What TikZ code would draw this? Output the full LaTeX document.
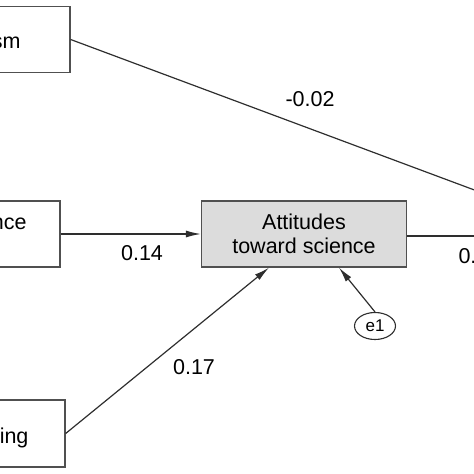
\documentclass[tikz,border=0pt]{standalone}
\usepackage{fontspec}
\setmainfont{Liberation Sans}
\usetikzlibrary{arrows.meta, calc, positioning, shapes.geometric}
\definecolor{BoxFill}{HTML}{DCDCDC}
\definecolor{EdgeGray}{HTML}{505050}
\definecolor{LineGray}{HTML}{2E2E2E}

\tikzset{
  varbox/.style={draw=EdgeGray, line width=1.3pt, rectangle, inner sep=0pt,
    minimum width=260pt, minimum height=66pt},
  coef/.style={LineGray, line width=1.2pt},
  coefarrow/.style={coef, -{Latex[length=15pt, width=7pt]}},
}

\begin{document}
\begin{tikzpicture}[x=1pt, y=-1pt, font=\fontsize{21.5}{24}\selectfont]
    \useasboundingbox (0,0) rectangle (474,474);
    \clip (0,0) rectangle (474,474);
    % exogenous boxes, cut off at the left edge
    \node[varbox] (ismbox) at (-60,39.5) {};
    \node[varbox] (ncebox) at (-70,234) {};
    \node[varbox, minimum height=67pt] (wingbox) at (-65,433.5) {};
    \node[anchor=base east] (ismtxt) at (24,48) {sm};
    \node[anchor=base east] (ncetxt) at (30,229) {nce};
    \node[anchor=base east] (wingtxt) at (32,443) {wing};
    % mediator and its error
    \node[varbox, fill=BoxFill, minimum width=205pt, align=center] (att) at (304,234)
        {Attitudes\\toward science};
    \node[draw=LineGray, line width=1.1pt, ellipse, inner sep=0pt,
        minimum width=41pt, minimum height=27pt, font=\fontsize{17}{19}\selectfont]
        (eone) at (375,326) {e1};
    % paths leaving the picture on the right
    \coordinate (outtop) at (520,207);
    \coordinate (outmid) at (520,236);
    \draw[coef] (ismbox.east) -- (outtop);
    \draw[coef] (att.east |- outmid) -- (outmid);
    \draw[coefarrow] (ncebox.east) -- (att.west);
    \draw[coefarrow] (wingbox.east) -- ($(att.south)+(-35,0)$);
    \draw[coefarrow] (eone.north) -- ($(att.south)+(35,0)$);
    % coefficients
    \node (lismatt) at (310,99) {-0.02};
    \node (lnceatt) at (142,253) {0.14};
    \node (lwingatt) at (194,367) {0.17};
    \node[anchor=base west] (lattout) at (455,263) {0.1};
\end{tikzpicture}
\end{document}
